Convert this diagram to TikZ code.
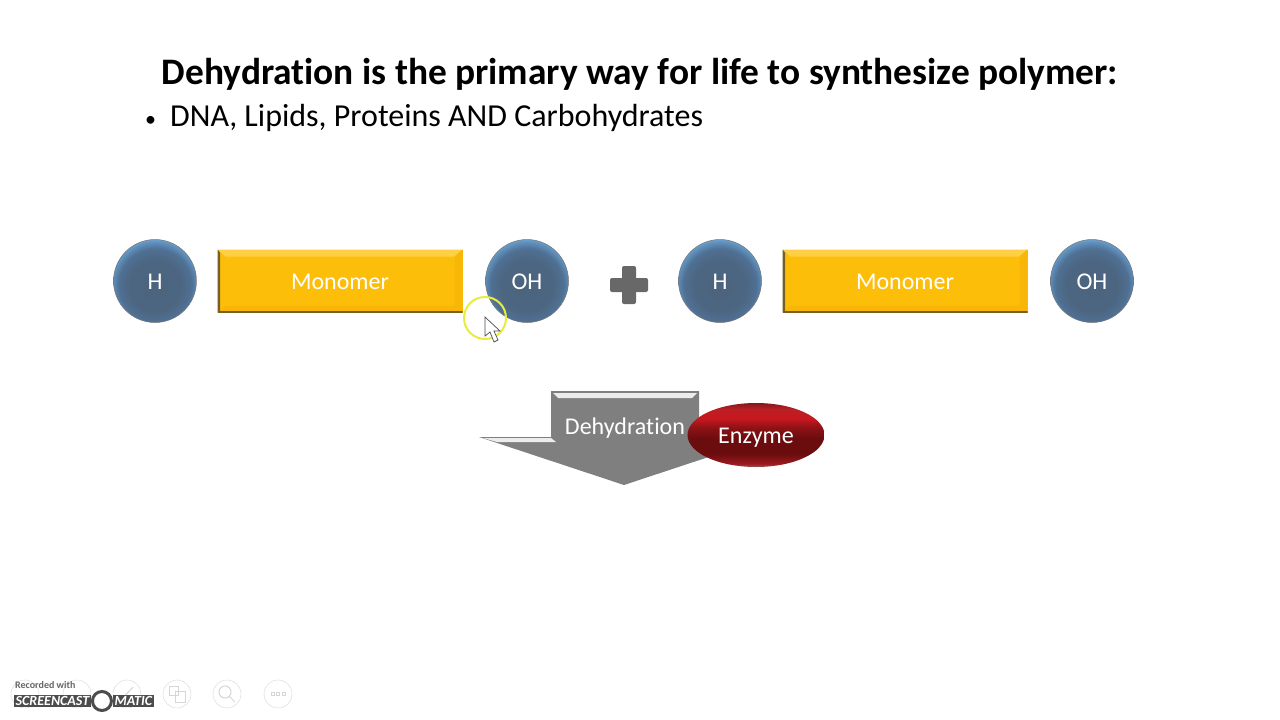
\documentclass[tikz,border=0pt]{standalone}
\usepackage{fontspec}
\setmainfont[Ligatures=NoCommon]{Carlito}
\usetikzlibrary{positioning, shapes.geometric, calc}
\definecolor{monoGold}{RGB}{253, 190, 10}
\definecolor{monoLight}{RGB}{255, 208, 70}
\definecolor{monoSide}{RGB}{248, 183, 8}
\definecolor{monoDark}{RGB}{118, 96, 40}
\definecolor{arrowGray}{RGB}{127, 127, 127}
\definecolor{plusGray}{RGB}{104, 104, 104}
\definecolor{markYellow}{RGB}{232, 236, 60}
\definecolor{toolGray}{RGB}{214, 214, 214}
\pgfdeclareradialshading{atomball}{\pgfpoint{0bp}{-4.5bp}}{
  rgb(0bp)=(0.30,0.39,0.49); rgb(16bp)=(0.30,0.40,0.51); rgb(22bp)=(0.31,0.44,0.58);
  rgb(26bp)=(0.38,0.58,0.76); rgb(28.5bp)=(0.48,0.69,0.85); rgb(30bp)=(0.30,0.47,0.62); rgb(50bp)=(0.30,0.47,0.62)}
\pgfdeclareverticalshading{enzshade}{100bp}{
  rgb(0bp)=(0.55,0.35,0.35); rgb(25bp)=(0.55,0.35,0.35); rgb(27.5bp)=(0.62,0.10,0.12); rgb(35bp)=(0.42,0.05,0.06); rgb(47.5bp)=(0.42,0.05,0.06);
  rgb(56bp)=(0.56,0.07,0.09); rgb(62.5bp)=(0.78,0.09,0.12); rgb(70bp)=(0.74,0.12,0.14); rgb(75bp)=(0.52,0.10,0.11); rgb(100bp)=(0.52,0.10,0.11)}
\tikzset{
  atom/.style={circle, draw=black!55, line width=0.5pt, minimum size=83pt, inner sep=0pt, outer sep=0pt,
    shading=atomball, text=white, text height=17pt, text depth=0pt, font=\fontsize{24}{26}\selectfont},
  monomer/.style={rectangle, minimum width=245pt, minimum height=63pt, inner sep=0pt, outer sep=0pt, fill=monoGold,
    text=white, text height=17pt, text depth=0pt, font=\fontsize{24}{26}\selectfont,
    path picture={
      \fill[monoLight] (path picture bounding box.north west) -- (path picture bounding box.north east)
        -- ++(-8pt,-7pt) -- ($(path picture bounding box.north west)+(8pt,-7pt)$) -- cycle;
      \fill[monoSide] (path picture bounding box.north east) -- (path picture bounding box.south east)
        -- ++(-8pt,7pt) -- ($(path picture bounding box.north east)+(-8pt,-7pt)$) -- cycle;
      \fill[monoSide] (path picture bounding box.south west) -- (path picture bounding box.south east)
        -- ++(-8pt,7pt) -- ($(path picture bounding box.south west)+(8pt,7pt)$) -- cycle;
      \fill[monoDark] (path picture bounding box.north west) -- ($(path picture bounding box.north west)+(2.5pt,-3pt)$)
        -- ($(path picture bounding box.south west)+(2.5pt,2pt)$) -- (path picture bounding box.south west) -- cycle;
      \fill[monoDark] (path picture bounding box.south west) rectangle ($(path picture bounding box.south east)+(0,2pt)$);
    }},
  enzyme/.style={ellipse, minimum width=137pt, minimum height=64pt, inner sep=0pt,
    shading=enzshade, text=white, text height=16pt, text depth=0pt, font=\fontsize{24}{26}\selectfont},
  tool/.style={circle, draw=toolGray, minimum size=28pt, inner sep=0pt, fill=white},
  brand/.style={fill=black!70, text=white, font=\fontsize{14}{14}\selectfont\bfseries\itshape, inner sep=1.5pt},
}
\begin{document}
\begin{tikzpicture}[x=1pt, y=-1pt]
  \useasboundingbox[fill=white] (0,0) rectangle (1280,720);
  % title
  \node[font=\fontsize{37.4}{40}\selectfont\bfseries] (title) at (640,74) {Dehydration is the primary way for life to synthesize polymer:};
  \node[font=\fontsize{32}{36}\selectfont, anchor=west, inner sep=0pt] (list) at (145,118) {{\fontsize{22}{22}\selectfont•}\hspace{14pt}DNA, Lipids, Proteins AND Carbohydrates};
  % first monomer
  \node[atom] (h1) at (155,281) {H};
  \node[monomer, right=21pt of h1] (mono1) {Monomer};
  \node[atom, right=23pt of mono1] (oh1) {OH};
  % plus
  \coordinate (plus) at (629,285);
  \fill[plusGray, rounded corners=2pt] ($(plus)+(-7,-19)$) rectangle ($(plus)+(7,19)$);
  \fill[plusGray, rounded corners=2pt] ($(plus)+(-19,-7)$) rectangle ($(plus)+(19,7)$);
  % second monomer
  \node[atom] (h2) at (720,281) {H};
  \node[monomer, right=21pt of h2] (mono2) {Monomer};
  \node[atom, right=23pt of mono2] (oh2) {OH};
  % arrow
  \fill[arrowGray] (551,391) -- (699,391) -- (699,437) -- (769,437) -- (624,485) -- (479,437) -- (551,437) -- cycle;
  \fill[white!85!arrowGray] (553,393) -- (697,393) -- (692,398) -- (558,398) -- cycle;
  \fill[white!85!arrowGray] (483,438) -- (551,438) -- (556,442) -- (497,442) -- cycle;
  \node[text=white, font=\fontsize{24}{26}\selectfont] (dehyd) at (625,428) {Dehydration};
  \node[enzyme] (enz) at (756,435) {Enzyme};
  % pointer
  \coordinate (mark) at (485,318);
  \draw[markYellow, line width=2pt] (mark) circle (21);
  \draw[black!70, fill=white, line width=0.7pt] (485,317) -- (485,336) -- (490,332) -- (494,342) -- (498,340) -- (494,331) -- (500,331) -- cycle;
  % toolbar
  \node[tool] (t1) at (25,694) {};
  \node[tool] (t2) at (77,694) {};
  \node[tool] (t3) at (127,694) {};
  \node[tool] (t4) at (177,694) {};
  \node[tool] (t5) at (227,694) {};
  \node[tool] (t6) at (278,694) {};
  \draw[toolGray, line width=1pt] (120,701) -- (133,687);
  \draw[toolGray, line width=1pt] (169,686) rectangle (178,695) (175,691) rectangle (185,702);
  \draw[toolGray, line width=1pt] (225,692) circle (6) (229,696) -- (235,702);
  \draw[toolGray, line width=0.8pt] (271,692) rectangle +(3,3) (276.5,692) rectangle +(3,3) (282,692) rectangle +(3,3);
  % watermark
  \node[font=\fontsize{10}{10}\selectfont\bfseries, text=black!60, anchor=west, inner sep=0pt] (rec) at (15,685) {Recorded with};
  \node[brand, anchor=west] (scr) at (14,701) {SCREENCAST};
  \node[circle, draw=black!70, line width=3pt, fill=white, minimum size=19pt, inner sep=0pt, right=0pt of scr] (omark) {};
  \node[brand, right=0pt of omark] (mat) {MATIC};
\end{tikzpicture}
\end{document}
